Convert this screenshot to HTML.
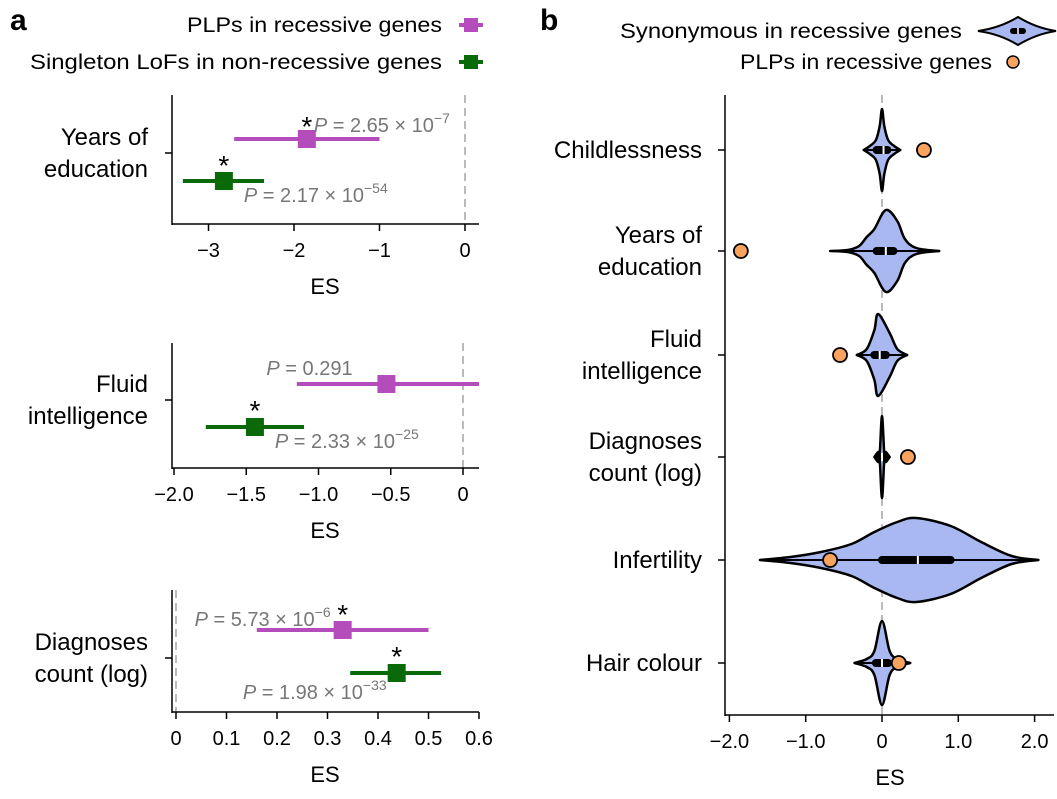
<!DOCTYPE html>
<html><head><meta charset="utf-8"><style>
body{margin:0;background:#fff;}
svg{display:block;font-family:"Liberation Sans",sans-serif;}
</style></head><body>
<svg id="fig" width="1057" height="799" viewBox="0 0 1057 799">
<text x="10" y="30" font-size="30" font-weight="bold">a</text>
<text x="540" y="30" font-size="30" font-weight="bold">b</text>
<g>
<text x="442" y="32" font-size="21" text-anchor="end" textLength="255" lengthAdjust="spacingAndGlyphs">PLPs in recessive genes</text>
<line x1="459" y1="25" x2="483" y2="25" stroke="#b44cbc" stroke-width="4"/><rect x="464" y="18" width="14" height="14" fill="#b44cbc"/>
<text x="442" y="69" font-size="21" text-anchor="end" textLength="412" lengthAdjust="spacingAndGlyphs">Singleton LoFs in non-recessive genes</text>
<line x1="459" y1="62" x2="483" y2="62" stroke="#0a6a0a" stroke-width="4"/><rect x="464" y="55" width="14" height="14" fill="#0a6a0a"/>
</g>
<g>
<text x="962" y="38" font-size="21" text-anchor="end" textLength="342" lengthAdjust="spacingAndGlyphs">Synonymous in recessive genes</text>
<path d="M978,31 Q1000,28 1018,17 Q1036,28 1056,31 Q1036,34 1018,45 Q1000,34 978,31Z" fill="#a9b8f0" stroke="#000" stroke-width="2"/>
<rect x="1010" y="28" width="16" height="6" rx="3" fill="#000"/><line x1="1018" y1="28" x2="1018" y2="34" stroke="#fff" stroke-width="1.5"/>
<text x="992" y="69" font-size="21" text-anchor="end" textLength="252" lengthAdjust="spacingAndGlyphs">PLPs in recessive genes</text>
<circle cx="1013" cy="62" r="6" fill="#f9a35f" stroke="#000" stroke-width="1.5"/>
</g>
<g id="pa"></g><g id="pb"></g>
</svg>
<script>
const NS='http://www.w3.org/2000/svg';
function mk(p,t,a){const e=document.createElementNS(NS,t);for(const k in a)e.setAttribute(k,a[k]);p.appendChild(e);return e;}
// ---- Panel a data ----
const aTraits=["Years of education","Fluid intelligence","Diagnoses count (log)"];
const aPlpEs=[-1.85,-0.53,0.33];
const aPlpLo=[-2.7,-1.15,0.16];
const aPlpHi=[-1.0,0.12,0.50];
const aLofEs=[-2.82,-1.44,0.437];
const aLofLo=[-3.3,-1.78,0.345];
const aLofHi=[-2.35,-1.1,0.525];
const aPlpP=[["2.65","−7"],["0.291",null],["5.73","−6"]];
const aLofP=[["2.17","−54"],["2.33","−25"],["1.98","−33"]];
const aTicks=[[-3,-2,-1,0],[-2.0,-1.5,-1.0,-0.5,0],[0,0.1,0.2,0.3,0.4,0.5,0.6]];
const aTickLabels=[["−3","−2","−1","0"],["−2.0","−1.5","−1.0","−0.5","0"],["0","0.1","0.2","0.3","0.4","0.5","0.6"]];
// layout
const aLayout=[
 {top:95,bot:224,mid:153,yP:139,yL:181,x0:465,ppu:85.5,lines:["Years of","education"],lx:148},
 {top:343,bot:468,mid:400,yP:384,yL:427,x0:463,ppu:144.5,lines:["Fluid","intelligence"],lx:148},
 {top:590,bot:712,mid:658,yP:630,yL:673,x0:176,ppu:505,lines:["Diagnoses","count (log)"],lx:148}];
const pa=document.getElementById('pa');
aLayout.forEach((L,i)=>{
 const g=mk(pa,'g',{});
 
 
 const X=v=>L.x0+v*L.ppu;
 const mid=L.mid, yP=L.yP, yL=L.yL;
 mk(g,'line',{x1:X(0),x2:X(0),y1:L.top,y2:L.bot,stroke:'#bbb','stroke-width':2,'stroke-dasharray':'8,5'});
 mk(g,'line',{x1:172,x2:172,y1:L.top,y2:L.bot+1,stroke:'#000','stroke-width':1.5});
 mk(g,'line',{x1:172,x2:479,y1:L.bot,y2:L.bot,stroke:'#000','stroke-width':1.5});
 mk(g,'line',{x1:165,x2:172,y1:mid,y2:mid,stroke:'#000','stroke-width':1.5});
 L.lines.forEach((s,k)=>{const t=mk(g,'text',{x:L.lx,y:mid-8+k*32,'font-size':24,'text-anchor':'end'});t.textContent=s;
  });
 aTicks[i].forEach((v,k)=>{mk(g,'line',{x1:X(v),x2:X(v),y1:L.bot,y2:L.bot+7,stroke:'#000','stroke-width':1.5});
  const t=mk(g,'text',{x:X(v),y:L.bot+33,'font-size':20,'text-anchor':'middle'});t.textContent=aTickLabels[i][k];
  });
 const xt=mk(g,'text',{x:325,y:L.bot+70,'font-size':22,'text-anchor':'middle'});xt.textContent='ES';
 
 const clip=v=>Math.min(479,Math.max(172,X(v)));
 [[aPlpEs,aPlpLo,aPlpHi,yP,'#b44cbc','plp'],[aLofEs,aLofLo,aLofHi,yL,'#0a6a0a','lof']].forEach(s=>{
  const l=mk(g,'line',{x1:clip(s[1][i]),x2:clip(s[2][i]),y1:s[3],y2:s[3],stroke:s[4],'stroke-width':4});
  
  const r=mk(g,'rect',{x:X(s[0][i])-9,y:s[3]-9,width:18,height:18,fill:s[4]});
  
 });
 function ptext(x,y,p,anchor){const t=mk(g,'text',{x:x,y:y,'font-size':20,fill:'#777','text-anchor':anchor});
  t.innerHTML='<tspan font-style="italic">P</tspan> = '+p[0]+(p[1]?' × 10<tspan dy="-9" font-size="14">'+p[1]+'</tspan>':'');
  }
 function star(x,y){const t=mk(g,'text',{x:x,y:y,'font-size':28,'text-anchor':'middle'});t.textContent='*';
  }
 if(i===0){star(X(aPlpEs[0]),yP-3);ptext(X(aPlpEs[0])+7,yP-7,aPlpP[0],'start');star(X(aLofEs[0]),yL-6);ptext(X(aLofEs[0])+20,yL+21,aLofP[0],'start');}
 if(i===1){ptext(X(aPlpEs[1])-120,yP-9,aPlpP[1],'start');star(X(aLofEs[1]),yL-7);ptext(X(aLofEs[1])+20,yL+21,aLofP[1],'start');}
 if(i===2){star(X(aPlpEs[2]),yP-6);ptext(X(aPlpEs[2])-12,yP-4,aPlpP[2],'end');star(X(aLofEs[2]),yL-7);ptext(X(aLofEs[2])-10,yL+26,aLofP[2],'end');}
});
// ---- Panel b data ----
const bTraits=["Childlessness","Years of education","Fluid intelligence","Diagnoses count (log)","Infertility","Hair colour"];
const bPlpEs=[0.55,-1.85,-0.55,0.34,-0.68,0.22];
const bMedian=[0.02,0.05,-0.03,0.0,0.47,0.0];
const bQ1=[-0.07,-0.07,-0.1,-0.03,0.0,-0.08];
const bQ3=[0.07,0.15,0.05,0.03,0.9,0.08];
const vEs=[
 [-0.24,-0.16,-0.08,-0.03,0,0.03,0.08,0.16,0.24],
 [-0.68,-0.45,-0.3,-0.2,-0.1,0.05,0.2,0.3,0.45,0.75],
 [-0.33,-0.2,-0.1,-0.05,0.1,0.2,0.33],
 [-0.1,-0.05,-0.03,0,0.03,0.05,0.1],
 [-1.6,-1.2,-0.8,-0.4,-0.1,0.2,0.45,0.9,1.3,1.7,2.05],
 [-0.36,-0.2,-0.1,0,0.1,0.2,0.37]];
const vDen=[
 [0,4,10,24,41,24,10,4,0],
 [0,1,5,14,22,41,30,12,3,0],
 [0,6,25,41,22,6,0],
 [0,5,3,41,3,5,0],
 [0,3,8,16,28,38,42,34,18,4,0],
 [0,4,12,42,12,4,0]];
const bTicks=[-2,-1,0,1,2];
const bTickLabels=["−2.0","−1.0","0","1.0","2.0"];
const bRows=[150,251,355,457,560,663];
const bLines=[["Childlessness"],["Years of","education"],["Fluid","intelligence"],["Diagnoses","count (log)"],["Infertility"],["Hair colour"]];
const pb=document.getElementById('pb');
const BX=v=>882+v*76.3;
mk(pb,'line',{x1:BX(0),x2:BX(0),y1:95,y2:715,stroke:'#bbb','stroke-width':2,'stroke-dasharray':'8,5'});
mk(pb,'line',{x1:725,x2:725,y1:95,y2:716,stroke:'#000','stroke-width':1.5});
mk(pb,'line',{x1:725,x2:1054,y1:715,y2:715,stroke:'#000','stroke-width':1.5});
bTicks.forEach((v,k)=>{mk(pb,'line',{x1:BX(v),x2:BX(v),y1:715,y2:722,stroke:'#000','stroke-width':1.5});
 const t=mk(pb,'text',{x:BX(v),y:748,'font-size':20,'text-anchor':'middle'});t.textContent=bTickLabels[k];
 });
const bt=mk(pb,'text',{x:890,y:785,'font-size':22,'text-anchor':'middle'});bt.textContent='ES';

function spline(pts){let d='M'+pts[0][0]+','+pts[0][1];
 for(let i=0;i<pts.length-1;i++){const p0=pts[Math.max(0,i-1)],p1=pts[i],p2=pts[i+1],p3=pts[Math.min(pts.length-1,i+2)];
  const c1=[p1[0]+(p2[0]-p0[0])/6,p1[1]+(p2[1]-p0[1])/6],c2=[p2[0]-(p3[0]-p1[0])/6,p2[1]-(p3[1]-p1[1])/6];
  d+=' C'+c1[0]+','+c1[1]+' '+c2[0]+','+c2[1]+' '+p2[0]+','+p2[1];}
 return d;}
bRows.forEach((y,i)=>{
 const g=mk(pb,'g',{});
 
 
 mk(g,'line',{x1:718,x2:725,y1:y,y2:y,stroke:'#000','stroke-width':1.5});
 const L=bLines[i];
 L.forEach((s,k)=>{const t=mk(g,'text',{x:702,y:y+8-(L.length-1)*16+k*32,'font-size':24,'text-anchor':'end'});t.textContent=s;
  });
 const top=vEs[i].map((e,k)=>[BX(e),y-vDen[i][k]]);
 const bot=vEs[i].map((e,k)=>[BX(e),y+vDen[i][k]]).reverse();
 const d=spline(top)+' L'+spline(bot).slice(1)+' Z';
 const v=mk(g,'path',{d:d,fill:'#a9b8f0',stroke:'#000','stroke-width':2.5,'stroke-linejoin':'round'});
 
 const ne=vEs[i].length;
 mk(g,'line',{x1:BX(vEs[i][0]),x2:BX(vEs[i][ne-1]),y1:y,y2:y,stroke:'#000','stroke-width':2});
 mk(g,'line',{x1:BX(bQ1[i]),x2:BX(bQ3[i]),y1:y,y2:y,stroke:'#000','stroke-width':8,'stroke-linecap':'round'});
 mk(g,'line',{x1:BX(bMedian[i]),x2:BX(bMedian[i]),y1:y-4,y2:y+4,stroke:'#fff','stroke-width':2});
 const c=mk(g,'circle',{cx:BX(bPlpEs[i]),cy:y,r:7,fill:'#f9a35f',stroke:'#000','stroke-width':1.8});
 
});
</script>
</body></html>
